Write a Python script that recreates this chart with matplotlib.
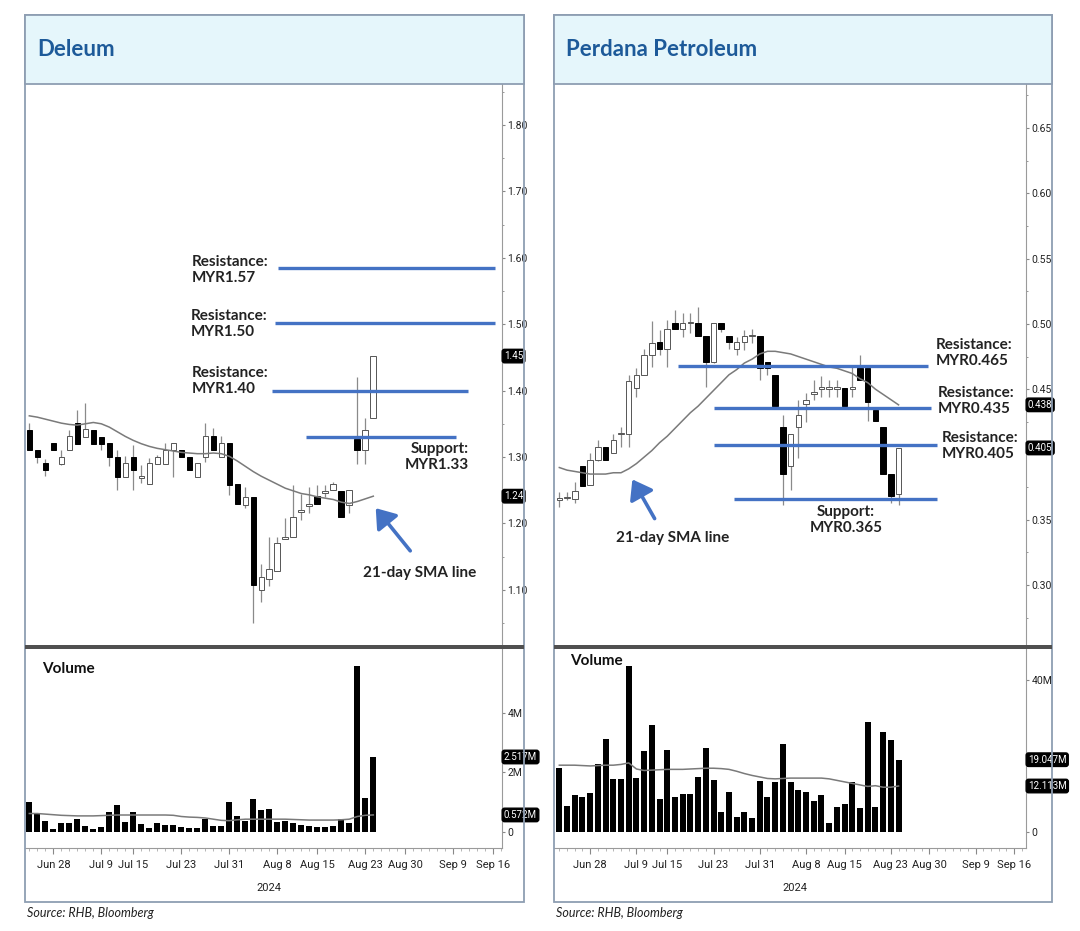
import numpy as np
import matplotlib
matplotlib.use("Agg")
import matplotlib.pyplot as plt
from matplotlib.patches import Rectangle, FancyArrowPatch

# ---------------- data ----------------
holidays = ["2024-07-08"]
tick_dates = ["2024-06-28", "2024-07-09", "2024-07-15", "2024-07-23", "2024-07-31",
              "2024-08-08", "2024-08-15", "2024-08-23", "2024-08-30", "2024-09-09", "2024-09-16"]
tick_labels = ["Jun 28", "Jul 9", "Jul 15", "Jul 23", "Jul 31", "Aug 8", "Aug 15",
               "Aug 23", "Aug 30", "Sep 9", "Sep 16"]

# Deleum (first bar 2024-06-25)
deleum_start = "2024-06-25"
deleum_open = [1.341, 1.311, 1.291, 1.321, 1.290, 1.310, 1.351, 1.330, 1.341, 1.330, 1.321, 1.300, 1.270, 1.300,
               1.270, 1.259, 1.290, 1.290, 1.310, 1.311, 1.300, 1.270, 1.300, 1.331, 1.300, 1.321, 1.259, 1.228,
               1.240, 1.100, 1.117, 1.129, 1.178, 1.179, 1.219, 1.228, 1.241, 1.247, 1.250, 1.249, 1.228, 1.327,
               1.311, 1.358]
deleum_close = [1.311, 1.300, 1.280, 1.310, 1.300, 1.331, 1.320, 1.342, 1.320, 1.320, 1.300, 1.270, 1.291, 1.280,
                1.272, 1.291, 1.300, 1.311, 1.321, 1.300, 1.280, 1.291, 1.331, 1.310, 1.321, 1.258, 1.229, 1.240,
                1.107, 1.119, 1.131, 1.170, 1.180, 1.210, 1.220, 1.229, 1.229, 1.248, 1.259, 1.209, 1.250, 1.311,
                1.341, 1.452]
deleum_high = [1.351, 1.311, 1.297, 1.321, 1.311, 1.341, 1.371, 1.381, 1.341, 1.330, 1.321, 1.311, 1.301, 1.318,
               1.288, 1.298, 1.303, 1.321, 1.321, 1.311, 1.300, 1.291, 1.351, 1.343, 1.331, 1.321, 1.259, 1.255,
               1.240, 1.139, 1.180, 1.180, 1.208, 1.258, 1.245, 1.255, 1.258, 1.258, 1.262, 1.249, 1.250, 1.421,
               1.358, 1.452]
deleum_low = [1.311, 1.291, 1.272, 1.310, 1.288, 1.310, 1.320, 1.330, 1.320, 1.311, 1.286, 1.250, 1.270, 1.250,
              1.261, 1.259, 1.290, 1.290, 1.270, 1.300, 1.280, 1.270, 1.293, 1.310, 1.300, 1.243, 1.229, 1.223,
              1.050, 1.082, 1.105, 1.129, 1.178, 1.179, 1.205, 1.215, 1.229, 1.240, 1.250, 1.209, 1.215, 1.289,
              1.289, 1.358]
deleum_sma = [1.362, 1.360, 1.357, 1.354, 1.351, 1.349, 1.348, 1.350, 1.352, 1.350, 1.345, 1.338, 1.331, 1.325,
              1.320, 1.316, 1.313, 1.311, 1.309, 1.307, 1.306, 1.305, 1.305, 1.306, 1.305, 1.301, 1.294, 1.286,
              1.278, 1.271, 1.265, 1.259, 1.253, 1.249, 1.245, 1.243, 1.240, 1.238, 1.236, 1.232, 1.230, 1.233,
              1.237, 1.241]
deleum_volume = [1.02, 0.63, 0.37, 0.09, 0.29, 0.31, 0.43, 0.20, 0.11, 0.18, 0.66, 0.91, 0.35, 0.66, 0.26, 0.12,
                 0.29, 0.23, 0.23, 0.18, 0.14, 0.14, 0.43, 0.20, 0.20, 1.02, 0.55, 0.37, 1.11, 0.74, 0.76, 0.35,
                 0.37, 0.29, 0.23, 0.20, 0.18, 0.18, 0.20, 0.43, 0.29, 5.58, 1.13, 2.517]
deleum_volume_ma = [0.62, 0.62, 0.60, 0.58, 0.56, 0.55, 0.54, 0.54, 0.54, 0.55, 0.56, 0.57, 0.57, 0.57, 0.57,
                    0.57, 0.57, 0.57, 0.56, 0.52, 0.50, 0.49, 0.47, 0.43, 0.39, 0.38, 0.41, 0.43, 0.43, 0.43,
                    0.43, 0.43, 0.43, 0.42, 0.41, 0.40, 0.40, 0.40, 0.40, 0.41, 0.43, 0.52, 0.56, 0.572]
deleum_levels = [1.585, 1.502, 1.40, 1.33]
deleum_level_spans = [(31.1, 58.2), (30.7, 58.2), (30.3, 54.8), (34.6, 53.4)]
deleum_level_texts = ["Resistance:\nMYR1.57", "Resistance:\nMYR1.50", "Resistance:\nMYR1.40", "Support:\nMYR1.33"]
deleum_yticks = [1.10, 1.20, 1.30, 1.40, 1.50, 1.60, 1.70, 1.80]
deleum_ytick_labels = ["1.10", "1.20", "1.30", "1.40", "1.50", "1.60", "1.70", "1.80"]
deleum_vticks = [0, 2, 4]
deleum_vtick_labels = ["0", "2M", "4M"]

# Perdana Petroleum (first bar 2024-06-24)
perdana_start = "2024-06-24"
perdana_open = [0.366, 0.367, 0.366, 0.391, 0.377, 0.396, 0.406, 0.401, 0.416, 0.416, 0.451, 0.461, 0.476, 0.486,
                0.481, 0.501, 0.496, 0.501, 0.501, 0.491, 0.471, 0.501, 0.491, 0.481, 0.486, 0.491, 0.491, 0.471,
                0.461, 0.421, 0.391, 0.421, 0.439, 0.447, 0.451, 0.451, 0.451, 0.451, 0.451, 0.466, 0.466, 0.434,
                0.421, 0.385, 0.370]
perdana_close = [0.367, 0.368, 0.372, 0.376, 0.396, 0.406, 0.396, 0.411, 0.416, 0.456, 0.461, 0.476, 0.485, 0.481,
                 0.496, 0.496, 0.501, 0.501, 0.491, 0.471, 0.501, 0.496, 0.486, 0.486, 0.491, 0.491, 0.466, 0.466,
                 0.437, 0.385, 0.416, 0.430, 0.442, 0.447, 0.451, 0.451, 0.451, 0.437, 0.452, 0.457, 0.440, 0.426,
                 0.385, 0.368, 0.405]
perdana_high = [0.371, 0.371, 0.379, 0.391, 0.401, 0.411, 0.406, 0.416, 0.421, 0.461, 0.466, 0.481, 0.502, 0.495,
                0.503, 0.511, 0.508, 0.508, 0.513, 0.491, 0.501, 0.501, 0.491, 0.490, 0.495, 0.496, 0.491, 0.471,
                0.461, 0.430, 0.416, 0.442, 0.447, 0.457, 0.460, 0.457, 0.457, 0.451, 0.467, 0.476, 0.466, 0.434,
                0.421, 0.385, 0.405]
perdana_low = [0.360, 0.365, 0.363, 0.376, 0.377, 0.395, 0.396, 0.401, 0.406, 0.406, 0.444, 0.461, 0.467, 0.476,
               0.467, 0.496, 0.490, 0.493, 0.491, 0.452, 0.470, 0.494, 0.481, 0.476, 0.480, 0.485, 0.457, 0.461,
               0.437, 0.361, 0.373, 0.397, 0.425, 0.442, 0.444, 0.444, 0.444, 0.437, 0.444, 0.457, 0.426, 0.426,
               0.385, 0.363, 0.361]
perdana_sma = [0.390, 0.388, 0.387, 0.386, 0.385, 0.385, 0.385, 0.386, 0.386, 0.389, 0.393, 0.398, 0.403, 0.409,
               0.414, 0.420, 0.426, 0.432, 0.437, 0.443, 0.449, 0.455, 0.461, 0.465, 0.470, 0.473, 0.477, 0.479,
               0.479, 0.478, 0.477, 0.475, 0.473, 0.471, 0.469, 0.467, 0.466, 0.464, 0.462, 0.458, 0.455, 0.450,
               0.446, 0.442, 0.438]
perdana_volume = [16.9, 6.9, 9.7, 9.1, 10.3, 17.9, 24.6, 13.9, 13.9, 43.8, 14.3, 21.3, 28.3, 8.6, 21.6, 9.1,
                  10.0, 10.0, 14.6, 22.2, 13.8, 5.4, 10.6, 3.9, 5.4, 3.6, 13.4, 9.2, 13.1, 23.2, 13.1, 11.1,
                  10.6, 8.2, 9.7, 2.4, 6.7, 7.4, 13.2, 6.4, 29.0, 6.7, 26.3, 24.3, 19.047]
perdana_volume_ma = [17.6, 17.6, 17.6, 17.5, 17.4, 17.5, 17.6, 17.6, 17.8, 18.2, 16.6, 16.2, 16.3, 16.4, 16.5,
                     16.5, 16.5, 16.6, 16.7, 16.8, 16.8, 16.7, 16.5, 16.0, 15.4, 14.9, 14.5, 14.1, 14.0, 14.1,
                     14.2, 14.2, 14.2, 14.2, 14.2, 14.0, 13.6, 13.2, 12.8, 12.4, 12.0, 12.2, 11.8, 11.8, 12.113]
perdana_levels = [0.468, 0.4354, 0.407, 0.366]
perdana_level_spans = [(15.4, 47.8), (20.0, 48.2), (20.0, 49.0), (22.6, 49.0)]
perdana_level_texts = ["Resistance:\nMYR0.465", "Resistance:\nMYR0.435", "Resistance:\nMYR0.405", "Support:\nMYR0.365"]
perdana_yticks = [0.30, 0.35, 0.40, 0.45, 0.50, 0.55, 0.60, 0.65]
# 0.40 is hidden behind the last-price marker in the reference
perdana_ytick_labels = ["0.30", "0.35", "", "0.45", "0.50", "0.55", "0.60", "0.65"]
perdana_vticks = [0, 20, 40]
# 20M is hidden behind the last-volume marker in the reference
perdana_vtick_labels = ["0", "", "40M"]

# ---------------- style ----------------
W, H = 1080, 931
BOLD = ["Lato", "DejaVu Sans"]
NARROW = ["Liberation Sans Narrow", "Roboto", "Liberation Sans", "DejaVu Sans"]
BLUE = "#4472c4"
BORDER = "#8e9eb2"

fig = plt.figure(figsize=(W / 100, H / 100), dpi=100)
fig.patch.set_facecolor("white")


def fx(x):
    return x / W


def fy(y):
    return 1 - y / H


def add_ax(x0, y0, x1, y1):
    return fig.add_axes([fx(x0), fy(y1), (x1 - x0) / W, (y1 - y0) / H])


def style_axis(ax):
    for s in ["left", "top", "bottom"]:
        ax.spines[s].set_visible(False)
    ax.spines["right"].set_color("#9a9a9a")
    ax.spines["right"].set_linewidth(0.8)
    ax.yaxis.tick_right()
    ax.tick_params(axis="y", which="both", direction="out", length=2.5, color="#888",
                   labelsize=7.5, labelcolor="#222", pad=1.5)
    ax.set_facecolor("none")


def black_box(ax, val, txt):
    ax.text(1.004, val, txt, transform=ax.get_yaxis_transform(), ha="left", va="center",
            color="white", fontsize=7, family=NARROW, clip_on=False, zorder=10,
            bbox=dict(boxstyle="round,pad=0.18,rounding_size=0.25", fc="black", ec="black"))


def panel(box, title, start, o, h, l, c, sma, vol, vma, ylim, vylim, xlim, yticks, ytlabels,
          vticks, vtlabels, levels, spans, min_body, body_w, last_labels, vol_labels, year_x, vol_label_y):
    bx0, bx1, ax_x1 = box
    ax_x0 = bx0
    # outer box and title band
    fig.patches.append(Rectangle((fx(bx0), fy(902)), (bx1 - bx0) / W, (902 - 15) / H,
                                 transform=fig.transFigure, fc="none", ec=BORDER, lw=1.3, zorder=0))
    fig.patches.append(Rectangle((fx(bx0), fy(84)), (bx1 - bx0) / W, (84 - 15) / H,
                                 transform=fig.transFigure, fc="#e5f6fb", ec=BORDER, lw=1.3, zorder=0))
    fig.text(fx(bx0 + 12), fy(50), title, fontsize=16, fontweight="bold", color="#1d5a99",
             family=BOLD, va="center", ha="left")
    # separator bar
    fig.patches.append(Rectangle((fx(bx0), fy(649)), (bx1 - bx0) / W, 4.5 / H,
                                 transform=fig.transFigure, fc="#505050", ec="none", zorder=5))

    o, h, l, c = map(np.asarray, (o, h, l, c))
    n = len(o)
    x = np.arange(n)

    axp = add_ax(ax_x0, 84, ax_x1, 645)
    style_axis(axp)
    axp.set_xlim(*xlim)
    axp.set_ylim(*ylim)
    axp.set_xticks([])
    axp.set_yticks(yticks)
    axp.set_yticklabels(ytlabels, family=NARROW)
    step = yticks[1] - yticks[0]
    axp.set_yticks(np.arange(yticks[0] - step / 2, ylim[1], step / 2), minor=True)
    axp.tick_params(axis="y", which="minor", length=1.5)

    axp.vlines(x, l, h, color="#8a8a8a", lw=0.9, zorder=2)
    up = c >= o
    height = np.maximum(np.abs(c - o), min_body)
    bottom = np.where(np.abs(c - o) < min_body, np.minimum(o, c) - min_body / 2, np.minimum(o, c))
    axp.bar(x, height, body_w, bottom, color=np.where(up, "white", "black"),
            edgecolor=np.where(up, "#555555", "black"), linewidth=0.7, zorder=3)
    axp.plot(x, sma, color="#7a7a7a", lw=1.1, zorder=4)

    for lev, (s0, s1) in zip(levels, spans):
        axp.hlines(lev, s0, s1, color=BLUE, lw=2.4, zorder=5, clip_on=False)

    black_box(axp, last_labels[0][0], last_labels[0][1])
    black_box(axp, last_labels[1][0], last_labels[1][1])

    # volume
    axv = add_ax(ax_x0, 649, ax_x1, 848)
    style_axis(axv)
    axv.spines["bottom"].set_visible(True)
    axv.spines["bottom"].set_color("#9a9a9a")
    axv.spines["bottom"].set_linewidth(0.8)
    axv.set_xlim(*xlim)
    axv.set_ylim(*vylim)
    axv.bar(x, vol, 0.78, color="black", zorder=3)
    axv.plot(x, vma, color="#7a7a7a", lw=1.1, zorder=4)
    axv.set_yticks(vticks)
    axv.set_yticklabels(vtlabels, family=NARROW)
    black_box(axv, vol_labels[0][0], vol_labels[0][1])
    black_box(axv, vol_labels[1][0], vol_labels[1][1])
    axv.text(0.035, vol_label_y, "Volume", transform=axv.transAxes, fontsize=11, fontweight="bold",
             family=BOLD, color="#111", va="center", ha="left")

    pos = np.busday_count(start, tick_dates, holidays=holidays)
    axv.set_xticks(pos)
    axv.set_xticklabels(tick_labels, family=NARROW, fontsize=8)
    axv.set_xticks(np.arange(0, int(xlim[1]) + 1), minor=True)
    axv.tick_params(axis="x", which="major", length=4, color="#888", labelcolor="#222", pad=5)
    axv.tick_params(axis="x", which="minor", length=2.5, color="#aaa")
    axv.text(year_x, -0.2, "2024", transform=axv.get_xaxis_transform(), fontsize=8,
             family=NARROW, ha="center", va="center", color="#222")
    fig.text(fx(bx0 + 2), fy(913), "Source: RHB, Bloomberg", fontsize=9, style="italic",
             family=["Lato", "DejaVu Sans"], color="#222", va="center", ha="left")
    return axp, axv


# ---------------- left panel: Deleum ----------------
panel((25, 524, 502), "Deleum", deleum_start, deleum_open, deleum_high, deleum_low, deleum_close,
      deleum_sma, deleum_volume, deleum_volume_ma,
      ylim=(1.0169, 1.8617), vylim=(-0.537, 6.14), xlim=(-0.54, 59.09),
      yticks=deleum_yticks, ytlabels=deleum_ytick_labels, vticks=deleum_vticks, vtlabels=deleum_vtick_labels,
      levels=deleum_levels, spans=deleum_level_spans, min_body=0.003, body_w=0.7,
      last_labels=[(deleum_close[-1], "1.45"), (deleum_sma[-1], "1.24")],
      vol_labels=[(deleum_volume[-1], "2.517M"), (deleum_volume_ma[-1], "0.572M")], year_x=30,
      vol_label_y=0.9)

# ---------------- right panel: Perdana ----------------
panel((554, 1052, 1026), "Perdana Petroleum", perdana_start, perdana_open, perdana_high, perdana_low,
      perdana_close, perdana_sma, perdana_volume, perdana_volume_ma,
      ylim=(0.2541, 0.6837), vylim=(-4.21, 48.2), xlim=(-0.69, 60.53),
      yticks=perdana_yticks, ytlabels=perdana_ytick_labels, vticks=perdana_vticks, vtlabels=perdana_vtick_labels,
      levels=perdana_levels, spans=perdana_level_spans, min_body=0.0013, body_w=0.72,
      last_labels=[(perdana_sma[-1], "0.438"), (perdana_close[-1], "0.405")],
      vol_labels=[(perdana_volume[-1], "19.047M"), (perdana_volume_ma[-1], "12.113M")], year_x=30.5,
      vol_label_y=0.94)

# ---------------- annotations (text placed in figure pixels) ----------------
TXT = dict(fontsize=11, fontweight="bold", family=BOLD, color="#222", linespacing=1.15)
fig.text(fx(268), fy(270), deleum_level_texts[0], ha="right", va="center", multialignment="left", **TXT)
fig.text(fx(267), fy(324), deleum_level_texts[1], ha="right", va="center", multialignment="left", **TXT)
fig.text(fx(268), fy(381), deleum_level_texts[2], ha="right", va="center", multialignment="left", **TXT)
fig.text(fx(469), fy(457), deleum_level_texts[3], ha="right", va="center", multialignment="right", **TXT)
fig.text(fx(420), fy(573), "21-day SMA line", ha="center", va="center", **TXT)

fig.text(fx(936), fy(353), perdana_level_texts[0], ha="left", va="center", **TXT)
fig.text(fx(938), fy(401), perdana_level_texts[1], ha="left", va="center", **TXT)
fig.text(fx(942), fy(446), perdana_level_texts[2], ha="left", va="center", **TXT)
fig.text(fx(846), fy(520), perdana_level_texts[3], ha="center", va="center", multialignment="center", **TXT)
fig.text(fx(673), fy(538), "21-day SMA line", ha="center", va="center", **TXT)

for (tx, ty), (hx, hy) in [((412, 553), (374, 506)), ((656, 521), (631, 477))]:
    fig.patches.append(FancyArrowPatch((fx(tx), fy(ty)), (fx(hx), fy(hy)), transform=fig.transFigure,
                                       arrowstyle="-|>,head_length=7,head_width=5", color=BLUE,
                                       lw=2.6, mutation_scale=1.6, zorder=6))

fig.savefig("out.png", dpi=100, facecolor="white")
